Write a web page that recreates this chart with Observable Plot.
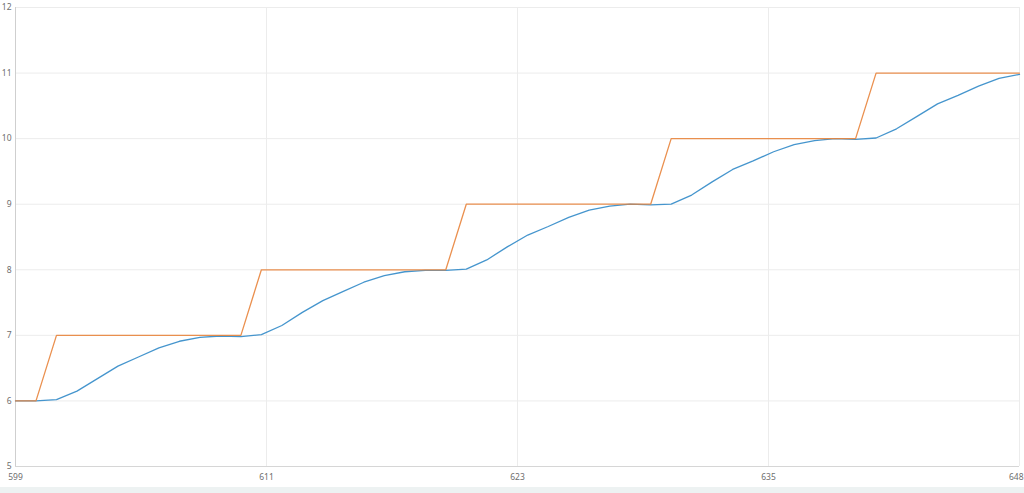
<!DOCTYPE html>
<html>
<head>
<meta charset="utf-8">
<script src="https://cdn.jsdelivr.net/npm/d3@7"></script>
<script src="https://cdn.jsdelivr.net/npm/@observablehq/plot@0.6"></script>
<style>
  html, body { margin: 0; padding: 0; background: #fff; overflow: hidden; }
  #band { height: 6px; background: #edf2f2; }
</style>
</head>
<body>
<div id="chart"></div>
<div id="band"></div>
<script>
const xValues = [599,600,601,602,603,604,605,606,607,608,609,610,611,612,613,614,615,616,617,618,619,620,621,622,623,624,625,626,627,628,629,630,631,632,633,634,635,636,637,638,639,640,641,642,643,644,645,646,647,648];
const blueValues = [6,6,6.02,6.15,6.34,6.53,6.67,6.81,6.91,6.97,6.99,6.98,7.01,7.15,7.35,7.53,7.67,7.81,7.91,7.97,7.99,7.99,8.01,8.15,8.35,8.53,8.66,8.8,8.91,8.97,9.0,8.99,9.0,9.14,9.34,9.53,9.66,9.8,9.91,9.97,10.0,9.99,10.01,10.15,10.34,10.53,10.66,10.8,10.92,10.98];
const orangeValues = [6,6,7,7,7,7,7,7,7,7,7,7,8,8,8,8,8,8,8,8,8,8,9,9,9,9,9,9,9,9,9,9,10,10,10,10,10,10,10,10,10,10,11,11,11,11,11,11,11,11];
const xTicks = [599, 611.25, 623.5, 635.75, 648];
const xTickLabels = ["599", "611", "623", "635", "648"];
const yTicks = [5, 6, 7, 8, 9, 10, 11, 12];
const yTickLabels = ["5", "6", "7", "8", "9", "10", "11", "12"];

const blue = xValues.map((x, i) => ({x, y: blueValues[i]}));
const orange = xValues.map((x, i) => ({x, y: orangeValues[i]}));
const lastTick = xTicks[xTicks.length - 1];

const chart = Plot.plot({
  width: 1024,
  height: 487,
  marginLeft: 15,
  marginRight: 5,
  marginTop: 7,
  marginBottom: 21,
  style: {fontFamily: "'Noto Sans', 'DejaVu Sans', sans-serif", fontSize: "8.5px", color: "#6e6e6e", background: "#fff", overflow: "visible"},
  x: {domain: [599, 648], label: null},
  y: {domain: [5, 12], label: null},
  marks: [
    Plot.gridX(xTicks, {stroke: "#ececec", strokeOpacity: 1}),
    Plot.gridY(yTicks, {stroke: "#ececec", strokeOpacity: 1}),
    Plot.ruleX([599], {stroke: "#cfcfcf"}),
    Plot.ruleY([5], {stroke: "#d6d6d6"}),
    Plot.axisX(xTicks.slice(0, -1), {tickSize: 0, tickPadding: 7, label: null, tickFormat: (d, i) => xTickLabels[i]}),
    Plot.axisX([lastTick], {tickSize: 0, tickPadding: 7, label: null, textAnchor: "end", dx: 4, tickFormat: () => xTickLabels[xTickLabels.length - 1]}),
    Plot.axisY(yTicks, {tickSize: 0, tickPadding: 4, label: null, tickFormat: (d, i) => yTickLabels[i]}),
    Plot.line(blue, {x: "x", y: "y", stroke: "#3b8fca", strokeWidth: 1.3, strokeOpacity: 0.95}),
    Plot.line(orange, {x: "x", y: "y", stroke: "#e8843c", strokeWidth: 1.3, strokeOpacity: 0.9})
  ]
});
document.getElementById("chart").appendChild(chart);
</script>
</body>
</html>
